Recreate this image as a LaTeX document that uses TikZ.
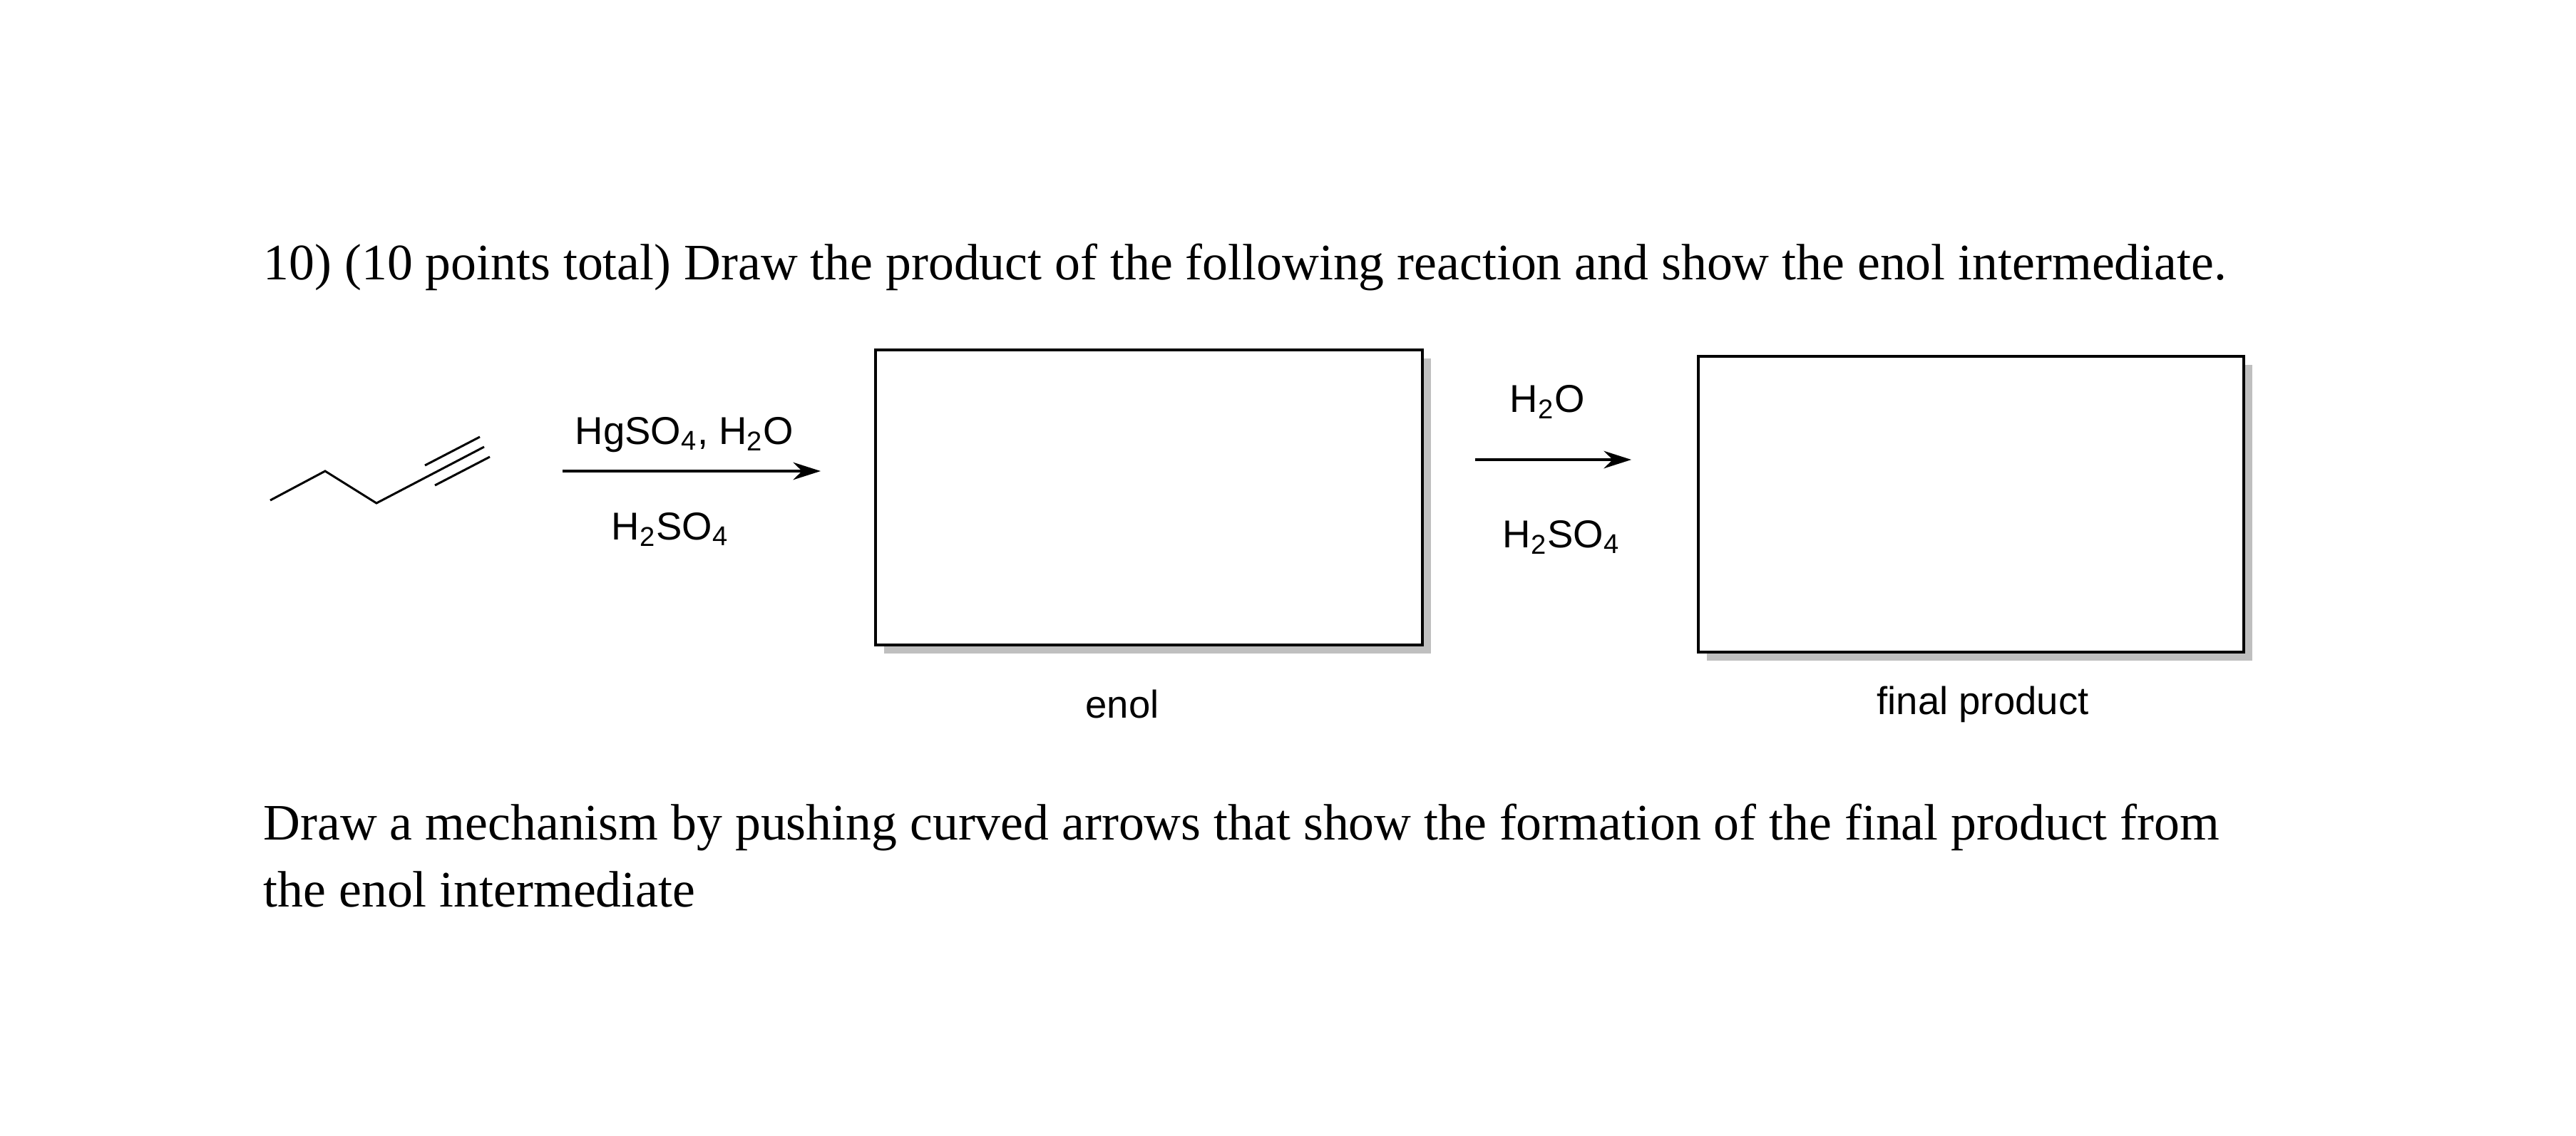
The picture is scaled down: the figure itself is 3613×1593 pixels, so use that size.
\documentclass[tikz,border=0pt]{standalone}
\usepackage{fontspec}
\setmainfont{Liberation Serif}
\setsansfont{Liberation Sans}
\usetikzlibrary{arrows.meta}
\tikzset{
  qtext/.style={font=\fontsize{20.4}{24}\selectfont, anchor=base west, inner sep=0pt},
  chem/.style={font=\sffamily\fontsize{15.5}{18}\selectfont, anchor=base, inner sep=0pt},
  bond/.style={line width=0.85pt},
  answerbox/.style={draw, line width=1.1pt, fill=white},
  shadowbox/.style={fill=black!25, draw=none},
  rxn/.style={line width=0.9pt, -{Stealth[length=11pt,width=7pt]}}
}
\begin{document}
\begin{tikzpicture}[x=0.01cm,y=-0.01cm]
\useasboundingbox (0,0) rectangle (3613,1593);
\node[qtext] (title) at (369,392) {10) (10 points total) Draw the product of the following reaction and show the enol intermediate.};
% alkyne
\coordinate (c1) at (379,702);
\coordinate (c2) at (456,661);
\coordinate (c3) at (528,706);
\coordinate (c4) at (679,627);
\coordinate (u1) at (596,653);
\coordinate (u2) at (673,613);
\coordinate (l1) at (610,681);
\coordinate (l2) at (687,641);
\draw[bond, line join=miter] (c1) -- (c2) -- (c3) -- (c4);
\draw[bond] (u1) -- (u2);
\draw[bond] (l1) -- (l2);
% arrow 1
\coordinate (a1s) at (789,661);
\coordinate (a1e) at (1151,661);
\draw[rxn] (a1s) -- (a1e);
\node[chem] (r1) at (960,623) {HgSO\textsubscript{4}, H\textsubscript{2}O};
\node[chem] (r2) at (940,757) {H\textsubscript{2}SO\textsubscript{4}};
% box 1
\fill[shadowbox] (1240,503) rectangle (2007,917);
\draw[answerbox] (1228,491) rectangle (1995,905);
% arrow 2
\coordinate (a2s) at (2069,645);
\coordinate (a2e) at (2288,645);
\draw[rxn] (a2s) -- (a2e);
\node[chem] (r3) at (2170,578) {H\textsubscript{2}O};
\node[chem] (r4) at (2190,768) {H\textsubscript{2}SO\textsubscript{4}};
% box 2
\fill[shadowbox] (2394,512) rectangle (3159,927);
\draw[answerbox] (2382,500) rectangle (3147,915);
\node[chem] (enol) at (1574,1007) {enol};
\node[chem] (fp) at (2781,1002) {final product};
\node[qtext] (q2a) at (369,1178) {Draw a mechanism by pushing curved arrows that show the formation of the final product from};
\node[qtext] (q2b) at (369,1272) {the enol intermediate};
\end{tikzpicture}
\end{document}
